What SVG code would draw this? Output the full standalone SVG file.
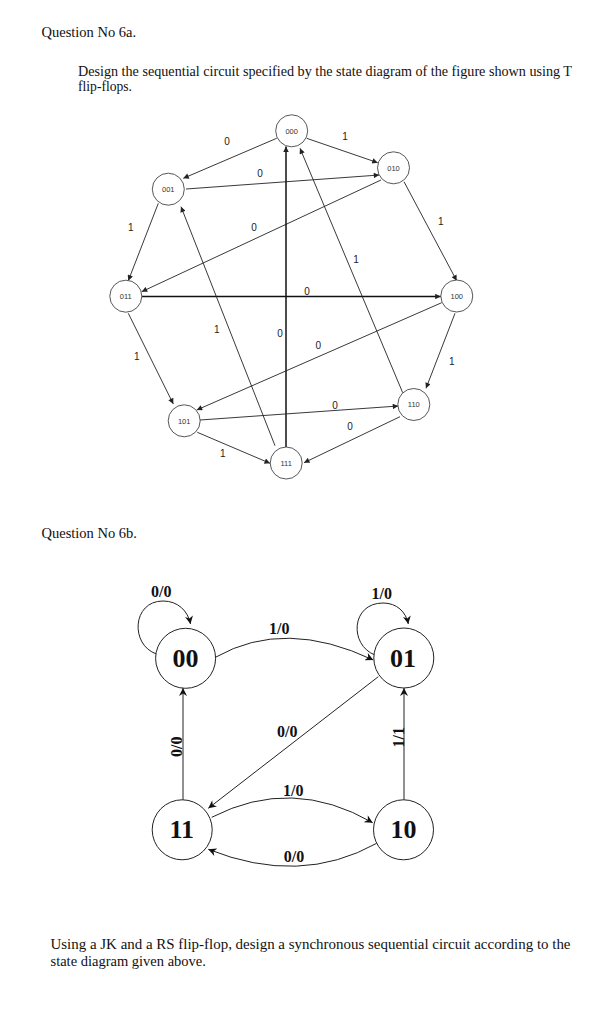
<svg xmlns="http://www.w3.org/2000/svg" width="597" height="1024" viewBox="0 0 597 1024">
<style>
.doc{font-family:"Liberation Serif","Times New Roman",serif;fill:#111}
.st{fill:#fff;stroke:#444;stroke-width:0.9}
.stt{font-family:"Liberation Sans",Arial,sans-serif;font-size:7.5px;fill:#333;text-anchor:middle}
.e{fill:none;stroke:#222;stroke-width:0.9}
.eb{fill:none;stroke:#111;stroke-width:1.5}
.el{font-family:"Liberation Sans",Arial,sans-serif;font-size:10px;fill:#222;text-anchor:middle}
.nd{fill:#fff;stroke:#222;stroke-width:1}
.ndt{font-family:"Liberation Serif","Times New Roman",serif;font-size:26px;font-weight:bold;fill:#111;text-anchor:middle}
.f{fill:none;stroke:#222;stroke-width:1}
.fl{font-family:"Liberation Serif","Times New Roman",serif;font-size:16px;font-weight:bold;fill:#111;text-anchor:middle}
</style>
<defs>
<marker id="a" viewBox="0 0 10 10" refX="10" refY="5" markerWidth="7" markerHeight="5.5" orient="auto" markerUnits="userSpaceOnUse"><path d="M0,0 L10,5 L0,10 z" fill="#222"/></marker>
<marker id="b" viewBox="0 0 10 10" refX="10" refY="5" markerWidth="9" markerHeight="8" orient="auto" markerUnits="userSpaceOnUse"><path d="M0,0 L10,5 L0,10 L3,5 z" fill="#111"/></marker>
</defs>
<rect width="597" height="1024" fill="#fff"/>

<text class="doc" x="41.5" y="36.5" font-size="14.5">Question No 6a.</text>
<text class="doc" x="78" y="76" font-size="13.6" textLength="494" lengthAdjust="spacingAndGlyphs">Design the sequential circuit specified by the state diagram of the figure shown using T</text>
<text class="doc" x="78" y="90.5" font-size="13.6">flip-flops.</text>

<g id="connectors-a">
<g><line class="e" x1="276.7" y1="138.3" x2="183.3" y2="178.3" marker-end="url(#a)"/><text class="el" x="227" y="144.5">0</text></g>
<g><line class="e" x1="306.7" y1="138.3" x2="377.7" y2="162.7" marker-end="url(#a)"/><text class="el" x="345" y="139.5">1</text></g>
<g><line class="e" x1="186" y1="189" x2="379.3" y2="175" marker-end="url(#a)"/><text class="el" x="260" y="176.5">0</text></g>
<g><line class="e" x1="381" y1="180" x2="141.7" y2="291.7" marker-end="url(#a)"/><text class="el" x="254" y="230.5">0</text></g>
<g><line class="e" x1="158.3" y1="203.3" x2="128.3" y2="280.7" marker-end="url(#a)"/><text class="el" x="130.7" y="230.8">1</text></g>
<g><line class="e" x1="404" y1="181.7" x2="456.7" y2="280.7" marker-end="url(#a)"/><text class="el" x="440.7" y="225.2">1</text></g>
<g><line class="eb" x1="142" y1="296.5" x2="440.7" y2="296.5" marker-end="url(#a)"/><text class="el" x="307" y="295.2">0</text></g>
<g><line class="eb" x1="286" y1="447" x2="286" y2="146.5" marker-end="url(#a)"/><text class="el" x="280" y="336.5">0</text></g>
<g><line class="e" x1="402.7" y1="392.7" x2="300" y2="148.3" marker-end="url(#a)"/><text class="el" x="356" y="262.5">1</text></g>
<g><line class="e" x1="275" y1="445.7" x2="181" y2="206.7" marker-end="url(#a)"/><text class="el" x="216.7" y="332.8">1</text></g>
<g><line class="e" x1="128.3" y1="313.3" x2="173.3" y2="404" marker-end="url(#a)"/><text class="el" x="136.7" y="359.5">1</text></g>
<g><line class="e" x1="441.7" y1="302.7" x2="196.7" y2="410" marker-end="url(#a)"/><text class="el" x="318.3" y="348.5">0</text></g>
<g><line class="e" x1="455" y1="313.3" x2="426" y2="388.3" marker-end="url(#a)"/><text class="el" x="451.7" y="364.5">1</text></g>
<g><line class="e" x1="200" y1="420" x2="398.3" y2="406" marker-end="url(#a)"/><text class="el" x="335" y="408.5">0</text></g>
<g><line class="e" x1="400" y1="416.7" x2="304" y2="462.7" marker-end="url(#a)"/><text class="el" x="350" y="430.2">0</text></g>
<g><line class="e" x1="197.3" y1="432.3" x2="270" y2="463.3" marker-end="url(#a)"/><text class="el" x="222.7" y="456.8">1</text></g>
</g>

<g id="s000"><circle class="st" cx="291.7" cy="130.8" r="16"/><text class="stt" x="291.7" y="133.5">000</text></g>
<g id="s001"><circle class="st" cx="168.3" cy="189.2" r="16"/><text class="stt" x="168.3" y="191.9">001</text></g>
<g id="s010"><circle class="st" cx="393.5" cy="167.8" r="16"/><text class="stt" x="393.5" y="170.5">010</text></g>
<g id="s011"><circle class="st" cx="125.8" cy="296.2" r="16"/><text class="stt" x="125.8" y="298.9">011</text></g>
<g id="s100"><circle class="st" cx="456.8" cy="296" r="16"/><text class="stt" x="456.8" y="298.7">100</text></g>
<g id="s101"><circle class="st" cx="184.2" cy="420.8" r="16"/><text class="stt" x="184.2" y="423.5">101</text></g>
<g id="s110"><circle class="st" cx="413.8" cy="404.5" r="16"/><text class="stt" x="413.8" y="407.2">110</text></g>
<g id="s111"><circle class="st" cx="286.2" cy="463" r="16"/><text class="stt" x="286.2" y="465.7">111</text></g>

<text class="doc" x="41.5" y="538" font-size="14.5">Question No 6b.</text>

<g id="connectors-b">
<g><path class="f" d="M156.5,654 C130,645 132,601 163,601 C178,601 188,611 190.5,624" marker-end="url(#b)"/><text class="fl" x="161.3" y="597.3">0/0</text></g>
<g><path class="f" d="M216,657 Q285,618 373.3,660" marker-end="url(#b)"/><text class="fl" x="279.3" y="634">1/0</text></g>
<g><path class="f" d="M375,655 C349,645 351,603 383,603 C397,603 406,612 408.3,624" marker-end="url(#b)"/><text class="fl" x="381.7" y="599.3">1/0</text></g>
<g><line class="f" x1="378.3" y1="676.7" x2="208.3" y2="808.3" marker-end="url(#b)"/><text class="fl" x="287.3" y="737.3">0/0</text></g>
<g><line class="f" x1="183" y1="800" x2="183" y2="688" marker-end="url(#b)"/><text class="fl" transform="translate(182,746.7) rotate(-90)">0/0</text></g>
<g><line class="f" x1="404" y1="800" x2="404" y2="688" marker-end="url(#b)"/><text class="fl" transform="translate(403.5,737.3) rotate(-90)">1/1</text></g>
<g><path class="f" d="M211.7,817.3 Q292,776 372.7,822.7" marker-end="url(#b)"/><text class="fl" x="293.3" y="796">1/0</text></g>
<g><path class="f" d="M376.7,843.3 Q300,886 208.3,849.3" marker-end="url(#b)"/><text class="fl" x="294" y="861.7">0/0</text></g>
</g>

<g id="n00"><circle class="nd" cx="185.6" cy="658.3" r="30"/><text class="ndt" x="185.4" y="666.7">00</text></g>
<g id="n01"><circle class="nd" cx="403.8" cy="658" r="30"/><text class="ndt" x="403" y="666.7">01</text></g>
<g id="n11"><circle class="nd" cx="182.2" cy="829.8" r="30"/><text class="ndt" x="181.7" y="838.3">11</text></g>
<g id="n10"><circle class="nd" cx="403.5" cy="829.8" r="30"/><text class="ndt" x="403.5" y="838.3">10</text></g>

<text class="doc" x="50.5" y="949" font-size="14.5" textLength="520" lengthAdjust="spacingAndGlyphs">Using a JK and a RS flip-flop, design a synchronous sequential circuit according to the</text>
<text class="doc" x="50.5" y="966" font-size="14.5">state diagram given above.</text>
</svg>
